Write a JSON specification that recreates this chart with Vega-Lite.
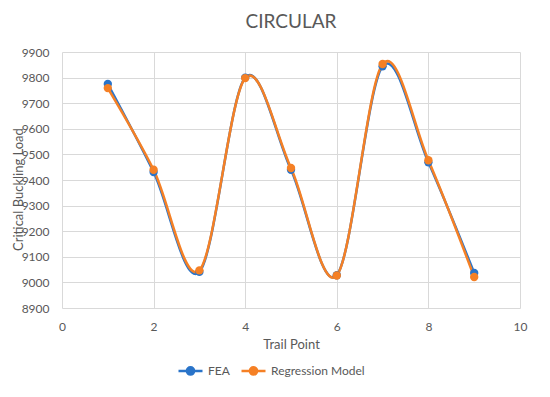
{
  "$schema": "https://vega.github.io/schema/vega-lite/v6.json",
  "width": 458,
  "height": 256,
  "autosize": {"type": "none"},
  "padding": {"left": 62, "top": 52, "right": 30, "bottom": 89},
  "background": "white",
  "title": {
    "text": "CIRCULAR",
    "fontSize": 19,
    "font": "Lato",
    "fontWeight": "normal",
    "color": "#595959",
    "offset": 14
  },
  "config": {
    "view": {"stroke": null},
    "axis": {
      "labelFont": "Lato",
      "titleFont": "Lato",
      "labelColor": "#595959",
      "titleColor": "#595959",
      "labelFontSize": 12,
      "titleFontSize": 13,
      "titleFontWeight": "normal",
      "gridColor": "#d9d9d9",
      "gridWidth": 1,
      "domain": false,
      "ticks": false
    },
    "legend": {
      "labelFont": "Lato",
      "labelColor": "#595959",
      "labelFontSize": 12
    }
  },
  "data": {
    "values": [
      {"trail": 1, "load": 9775, "series": "FEA"},
      {"trail": 2, "load": 9431, "series": "FEA"},
      {"trail": 3, "load": 9041, "series": "FEA"},
      {"trail": 4, "load": 9800, "series": "FEA"},
      {"trail": 5, "load": 9440, "series": "FEA"},
      {"trail": 6, "load": 9028, "series": "FEA"},
      {"trail": 7, "load": 9844, "series": "FEA"},
      {"trail": 8, "load": 9469, "series": "FEA"},
      {"trail": 9, "load": 9037, "series": "FEA"},
      {"trail": 1, "load": 9759, "series": "Regression Model"},
      {"trail": 2, "load": 9440, "series": "Regression Model"},
      {"trail": 3, "load": 9047, "series": "Regression Model"},
      {"trail": 4, "load": 9798, "series": "Regression Model"},
      {"trail": 5, "load": 9447, "series": "Regression Model"},
      {"trail": 6, "load": 9027, "series": "Regression Model"},
      {"trail": 7, "load": 9853, "series": "Regression Model"},
      {"trail": 8, "load": 9477, "series": "Regression Model"},
      {"trail": 9, "load": 9021, "series": "Regression Model"}
    ]
  },
  "encoding": {
    "x": {
      "field": "trail",
      "type": "quantitative",
      "scale": {"domain": [0, 10], "nice": false, "zero": false},
      "axis": {
        "values": [0, 2, 4, 6, 8, 10],
        "title": "Trail Point",
        "labelPadding": 13,
        "titlePadding": 6,
        "labelFlush": false
      }
    },
    "y": {
      "field": "load",
      "type": "quantitative",
      "scale": {"domain": [8900, 9900], "nice": false, "zero": false},
      "axis": {
        "values": [8900, 9000, 9100, 9200, 9300, 9400, 9500, 9600, 9700, 9800, 9900],
        "format": "d",
        "title": "Critical Buckling Load",
        "labelPadding": 13,
        "titleX": -44,
        "titleY": 137,
        "titleAlign": "center",
        "titleBaseline": "middle",
        "labelFlush": false
      }
    },
    "color": {
      "field": "series",
      "type": "nominal",
      "scale": {"domain": ["FEA", "Regression Model"], "range": ["#2a74c9", "#f58025"]},
      "legend": {
        "title": null,
        "orient": "none",
        "direction": "horizontal",
        "legendX": 115,
        "legendY": 305,
        "symbolType": "M-1,0L1,0M0.3,0A0.3,0.3,0,1,1,-0.3,0A0.3,0.3,0,1,1,0.3,0Z",
        "symbolSize": 576,
        "symbolStrokeWidth": 2.5,
        "columnPadding": 6,
        "labelOffset": 4,
        "encode": {
          "symbols": {
            "update": {
              "fill": {"scale": "color", "field": "value"},
              "stroke": {"scale": "color", "field": "value"},
              "opacity": {"value": 1}
            }
          }
        }
      }
    }
  },
  "layer": [
    {
      "mark": {"type": "line", "interpolate": "cardinal", "tension": 0, "strokeWidth": 2.5}
    },
    {
      "mark": {"type": "point", "filled": true, "size": 70, "opacity": 1, "shape": "circle"}
    }
  ]
}
